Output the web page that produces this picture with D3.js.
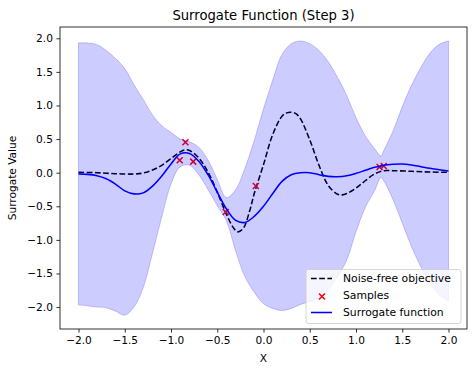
<!DOCTYPE html>
<html>
<head>
<meta charset="utf-8">
<script src="https://cdn.jsdelivr.net/npm/d3@7.9.0/dist/d3.min.js"></script>
<style>
  html, body { margin: 0; padding: 0; background: #fff; }
  svg { display: block; font-family: "DejaVu Sans", sans-serif; }
</style>
</head>
<body>
<svg id="chart" width="474" height="373"></svg>
<script>
// surrogate (GP mean) and its confidence band
const surrogateX = [-2.0, -1.9, -1.8, -1.7, -1.6, -1.5, -1.4, -1.3, -1.2, -1.1, -1.0, -0.9, -0.8, -0.7, -0.6, -0.5, -0.4, -0.3, -0.2, -0.1, 0.0, 0.1, 0.2, 0.3, 0.4, 0.5, 0.6, 0.7, 0.8, 0.9, 1.0, 1.1, 1.2, 1.27, 1.3, 1.4, 1.5, 1.6, 1.7, 1.8, 1.9, 2.0];
const surrogateMean = [-0.02, -0.025, -0.045, -0.09, -0.17, -0.27, -0.315, -0.30, -0.20, -0.05, 0.13, 0.28, 0.285, 0.17, -0.03, -0.29, -0.54, -0.71, -0.74, -0.65, -0.50, -0.31, -0.13, -0.03, 0.0, 0.0, -0.03, -0.055, -0.06, -0.045, -0.01, 0.035, 0.08, 0.10, 0.11, 0.125, 0.13, 0.115, 0.09, 0.065, 0.045, 0.025];
const bandUpper = [1.93, 1.93, 1.905, 1.82, 1.70, 1.55, 1.31, 1.09, 0.86, 0.70, 0.60, 0.50, 0.46, 0.38, 0.19, -0.10, -0.37, -0.25, 0.07, 0.48, 0.95, 1.38, 1.76, 1.92, 1.96, 1.92, 1.82, 1.65, 1.42, 1.15, 0.82, 0.55, 0.36, 0.25, 0.33, 0.62, 0.98, 1.30, 1.56, 1.78, 1.91, 1.96];
const bandLower = [-1.97, -1.98, -2.00, -2.01, -2.06, -2.12, -2.00, -1.71, -1.20, -0.66, -0.17, 0.09, 0.11, -0.03, -0.25, -0.49, -0.72, -1.17, -1.55, -1.78, -1.95, -2.02, -2.05, -2.02, -1.96, -1.92, -1.86, -1.75, -1.55, -1.30, -0.88, -0.52, -0.27, -0.07, -0.12, -0.40, -0.75, -1.10, -1.40, -1.65, -1.82, -1.91];

// noise-free objective
const objectiveX = [-2.0, -1.8, -1.6, -1.4, -1.3, -1.2, -1.1, -1.0, -0.9, -0.85, -0.8, -0.7, -0.6, -0.5, -0.4, -0.33, -0.28, -0.22, -0.15, -0.1, 0.0, 0.1, 0.2, 0.25, 0.3, 0.35, 0.4, 0.5, 0.6, 0.7, 0.8, 0.85, 0.9, 1.0, 1.1, 1.2, 1.3, 1.4, 1.6, 1.8, 2.0];
const objectiveY = [0.005, 0.0, -0.015, -0.02, -0.005, 0.04, 0.11, 0.21, 0.31, 0.34, 0.33, 0.22, 0.01, -0.29, -0.62, -0.81, -0.88, -0.83, -0.57, -0.31, 0.12, 0.57, 0.84, 0.89, 0.90, 0.88, 0.80, 0.49, 0.11, -0.19, -0.32, -0.33, -0.31, -0.23, -0.12, -0.02, 0.03, 0.03, 0.02, 0.01, 0.005];

// sampled points
const sampleX = [-0.906, -0.844, -0.76, -0.408, -0.083, 1.255, 1.30];
const sampleY = [0.185, 0.452, 0.165, -0.585, -0.198, 0.085, 0.10];

const xTicks = [-2.0, -1.5, -1.0, -0.5, 0.0, 0.5, 1.0, 1.5, 2.0];
const yTicks = [-2.0, -1.5, -1.0, -0.5, 0.0, 0.5, 1.0, 1.5, 2.0];
const legendLabels = ["Noise-free objective", "Samples", "Surrogate function"];

const margin = { left: 60, right: 7, top: 27, bottom: 44 };
const W = 474, H = 373;
const svg = d3.select("#chart");

const x = d3.scaleLinear().domain([-2.2, 2.2]).range([margin.left, W - margin.right]);
const y = d3.scaleLinear().domain([-2.326, 2.168]).range([H - margin.bottom, margin.top]);
const fmt = d3.format(".1f");

const surrogate = surrogateX.map((v, i) => ({ x: v, m: surrogateMean[i], lo: bandLower[i], hi: bandUpper[i] }));
const objective = objectiveX.map((v, i) => ({ x: v, y: objectiveY[i] }));
const samples = sampleX.map((v, i) => ({ x: v, y: sampleY[i] }));

const curve = d3.curveCatmullRom.alpha(0.5);
const g = svg.append("g");

// objective
g.append("path")
  .datum(objective)
  .attr("fill", "none")
  .attr("stroke", "#000")
  .attr("stroke-width", 1.55)
  .attr("stroke-dasharray", "5.7,2.5")
  .attr("d", d3.line().x(d => x(d.x)).y(d => y(d.y)).curve(curve));

// samples
const xMark = 3;
g.selectAll(".sample")
  .data(samples)
  .join("path")
  .attr("class", "sample")
  .attr("stroke", "red")
  .attr("stroke-width", 1.5)
  .attr("d", d => {
    const cx = x(d.x), cy = y(d.y);
    return `M${cx - xMark},${cy - xMark}L${cx + xMark},${cy + xMark}M${cx - xMark},${cy + xMark}L${cx + xMark},${cy - xMark}`;
  });

// surrogate mean
g.append("path")
  .datum(surrogate)
  .attr("fill", "none")
  .attr("stroke", "blue")
  .attr("stroke-width", 1.55)
  .attr("d", d3.line().x(d => x(d.x)).y(d => y(d.m)).curve(curve));

// confidence band on top
g.append("path")
  .datum(surrogate)
  .attr("fill", "blue")
  .attr("fill-opacity", 0.2)
  .attr("stroke", "blue")
  .attr("stroke-opacity", 0.2)
  .attr("stroke-width", 1)
  .attr("d", d3.area().x(d => x(d.x)).y0(d => y(d.lo)).y1(d => y(d.hi)).curve(curve));

// axes
const xAxis = svg.append("g")
  .attr("transform", `translate(0,${H - margin.bottom})`)
  .call(d3.axisBottom(x).tickValues(xTicks).tickFormat(fmt).tickSize(3.6).tickPadding(3.5));
const yAxis = svg.append("g")
  .attr("transform", `translate(${margin.left},0)`)
  .call(d3.axisLeft(y).tickValues(yTicks).tickFormat(fmt).tickSize(3.6).tickPadding(3.5));
[xAxis, yAxis].forEach(a => {
  a.select(".domain").remove();
  a.selectAll("text").attr("font-size", 10.6).attr("fill", "#000").attr("font-family", "DejaVu Sans");
  a.selectAll("line").attr("stroke", "#000").attr("stroke-width", 0.8);
});

svg.append("rect")
  .attr("x", margin.left).attr("y", margin.top)
  .attr("width", W - margin.left - margin.right)
  .attr("height", H - margin.top - margin.bottom)
  .attr("fill", "none").attr("stroke", "#000").attr("stroke-width", 0.8);

// titles
svg.append("text")
  .attr("x", (margin.left + W - margin.right) / 2).attr("y", 19.5)
  .attr("text-anchor", "middle").attr("font-size", 13.2)
  .text("Surrogate Function (Step 3)");
svg.append("text")
  .attr("x", (margin.left + W - margin.right) / 2).attr("y", 362)
  .attr("text-anchor", "middle").attr("font-size", 10.6)
  .text("X");
svg.append("text")
  .attr("transform", `translate(16,${(margin.top + H - margin.bottom) / 2}) rotate(-90)`)
  .attr("text-anchor", "middle").attr("font-size", 10.6)
  .text("Surrogate Value");

// legend
const lg = svg.append("g").attr("transform", "translate(306,269.5)");
lg.append("rect")
  .attr("width", 155).attr("height", 54).attr("rx", 2.5)
  .attr("fill", "#fff").attr("fill-opacity", 0.8)
  .attr("stroke", "#ccc").attr("stroke-width", 0.8);
legendLabels.forEach((label, i) => {
  const cy = 9 + i * 17;
  const row = lg.append("g").attr("transform", `translate(0,${cy})`);
  if (i === 0) {
    row.append("line").attr("x1", 5).attr("x2", 26).attr("stroke", "#000")
      .attr("stroke-width", 1.55).attr("stroke-dasharray", "5.7,2.5");
  } else if (i === 1) {
    row.append("path").attr("stroke", "red").attr("stroke-width", 1.5)
      .attr("d", `M${16 - xMark},${-xMark + 1}L${16 + xMark},${xMark + 1}M${16 - xMark},${xMark + 1}L${16 + xMark},${-xMark + 1}`);
  } else {
    row.append("line").attr("x1", 5).attr("x2", 26).attr("stroke", "blue").attr("stroke-width", 1.55);
  }
  row.append("text").attr("x", 37).attr("y", 3.8).attr("font-size", 10.8).text(label);
});
</script>
</body>
</html>
